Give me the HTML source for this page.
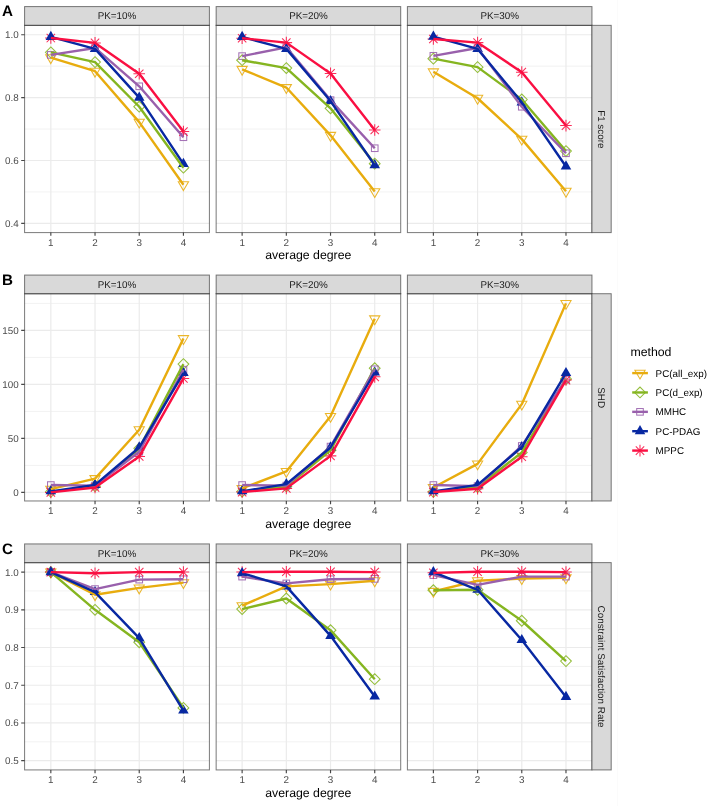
<!DOCTYPE html>
<html lang="en"><head><meta charset="utf-8"><title>Figure</title>
<style>html,body{margin:0;padding:0;background:#fff}svg{display:block}</style>
</head><body>
<svg width="708" height="806" viewBox="0 0 708 806" font-family="&quot;Liberation Sans&quot;, Arial, sans-serif" text-rendering="geometricPrecision">
<rect width="708" height="806" fill="#fff"/>
<text x="1.9" y="16.3" font-size="15.2" font-weight="bold" fill="#000">A</text>
<rect x="24.6" y="25.35" width="184.8" height="207.25" fill="#fff"/>
<path d="M24.6 191.92H209.4M24.6 129.05H209.4M24.6 66.18H209.4" stroke="#EBEBEB" stroke-width="0.65" fill="none"/>
<path d="M24.6 223.35H209.4M24.6 160.48H209.4M24.6 97.62H209.4M24.6 34.75H209.4M50.83 25.35V232.6M95.03 25.35V232.6M139.23 25.35V232.6M183.43 25.35V232.6" stroke="#EBEBEB" stroke-width="1.2" fill="none"/>
<path d="M50.83 63.6L55.94 54.75L45.72 54.75Z" fill="none" stroke="#E8AC0E" stroke-width="1.05" stroke-opacity="0.88"/>
<path d="M95.03 77.11L100.14 68.26L89.92 68.26Z" fill="none" stroke="#E8AC0E" stroke-width="1.05" stroke-opacity="0.88"/>
<path d="M139.23 128.03L144.34 119.18L134.12 119.18Z" fill="none" stroke="#E8AC0E" stroke-width="1.05" stroke-opacity="0.88"/>
<path d="M183.43 190.59L188.54 181.74L178.32 181.74Z" fill="none" stroke="#E8AC0E" stroke-width="1.05" stroke-opacity="0.88"/>
<path d="M45.43 52.35L50.83 46.95L56.23 52.35L50.83 57.75Z" fill="none" stroke="#85B520" stroke-width="1.05" stroke-opacity="0.88"/>
<path d="M89.63 62.1L95.03 56.7L100.43 62.1L95.03 67.5Z" fill="none" stroke="#85B520" stroke-width="1.05" stroke-opacity="0.88"/>
<path d="M133.83 106.73L139.23 101.33L144.63 106.73L139.23 112.13Z" fill="none" stroke="#85B520" stroke-width="1.05" stroke-opacity="0.88"/>
<path d="M178.03 167.71L183.43 162.31L188.83 167.71L183.43 173.11Z" fill="none" stroke="#85B520" stroke-width="1.05" stroke-opacity="0.88"/>
<rect x="47.53" y="51.57" width="6.6" height="6.6" fill="none" stroke="#9960AC" stroke-width="1.05" stroke-opacity="0.88"/>
<rect x="91.73" y="44.65" width="6.6" height="6.6" fill="none" stroke="#9960AC" stroke-width="1.05" stroke-opacity="0.88"/>
<rect x="135.93" y="83" width="6.6" height="6.6" fill="none" stroke="#9960AC" stroke-width="1.05" stroke-opacity="0.88"/>
<rect x="180.13" y="133.92" width="6.6" height="6.6" fill="none" stroke="#9960AC" stroke-width="1.05" stroke-opacity="0.88"/>
<path d="M46.63 33.85L55.03 42.25M46.63 42.25L55.03 33.85M45.03 38.05L56.63 38.05M50.83 32.25L50.83 43.85" fill="none" stroke="#FA0F42" stroke-width="1.05" stroke-opacity="0.88"/>
<path d="M90.83 38.72L99.23 47.12M90.83 47.12L99.23 38.72M89.23 42.92L100.83 42.92M95.03 37.12L95.03 48.72" fill="none" stroke="#FA0F42" stroke-width="1.05" stroke-opacity="0.88"/>
<path d="M135.03 69.53L143.43 77.93M135.03 77.93L143.43 69.53M133.43 73.73L145.03 73.73M139.23 67.93L139.23 79.53" fill="none" stroke="#FA0F42" stroke-width="1.05" stroke-opacity="0.88"/>
<path d="M179.23 127.36L187.63 135.76M179.23 135.76L187.63 127.36M177.63 131.56L189.23 131.56M183.43 125.76L183.43 137.36" fill="none" stroke="#FA0F42" stroke-width="1.05" stroke-opacity="0.88"/>
<path d="M50.83 30.85L56.11 40L45.55 40Z" fill="#0828A2"/>
<path d="M95.03 42.8L100.31 51.95L89.75 51.95Z" fill="#0828A2"/>
<path d="M139.23 91.52L144.51 100.67L133.95 100.67Z" fill="#0828A2"/>
<path d="M183.43 157.84L188.71 166.99L178.15 166.99Z" fill="#0828A2"/>
<polyline points="50.83,57.7 95.03,71.21 139.23,122.13 183.43,184.69" fill="none" stroke="#E8AC0E" stroke-width="2.4" stroke-linejoin="round" stroke-linecap="butt"/>
<polyline points="50.83,52.35 95.03,62.1 139.23,106.73 183.43,167.71" fill="none" stroke="#85B520" stroke-width="2.4" stroke-linejoin="round" stroke-linecap="butt"/>
<polyline points="50.83,54.87 95.03,47.95 139.23,86.3 183.43,137.22" fill="none" stroke="#9960AC" stroke-width="2.4" stroke-linejoin="round" stroke-linecap="butt"/>
<polyline points="50.83,36.95 95.03,48.9 139.23,97.62 183.43,163.94" fill="none" stroke="#0828A2" stroke-width="2.4" stroke-linejoin="round" stroke-linecap="butt"/>
<polyline points="50.83,38.05 95.03,42.92 139.23,73.73 183.43,131.56" fill="none" stroke="#FA0F42" stroke-width="2.4" stroke-linejoin="round" stroke-linecap="butt"/>
<rect x="24.6" y="25.35" width="184.8" height="207.25" fill="none" stroke="#333333" stroke-opacity="0.65" stroke-width="1"/>
<rect x="24.6" y="6.6" width="184.8" height="18.75" fill="#D9D9D9" stroke="#333333" stroke-opacity="0.65" stroke-width="1"/>
<text x="117" y="19.4" font-size="9.85" fill="#1A1A1A" text-anchor="middle">PK=10%</text>
<path d="M24.1 25.35H209.9" stroke="#333333" stroke-opacity="0.35" stroke-width="1.2" fill="none"/>
<path d="M50.83 232.6v3.2M95.03 232.6v3.2M139.23 232.6v3.2M183.43 232.6v3.2" stroke="#333333" stroke-opacity="0.9" stroke-width="1.15" fill="none"/>
<text x="50.83" y="245.8" font-size="9.85" fill="#4D4D4D" text-anchor="middle">1</text>
<text x="95.03" y="245.8" font-size="9.85" fill="#4D4D4D" text-anchor="middle">2</text>
<text x="139.23" y="245.8" font-size="9.85" fill="#4D4D4D" text-anchor="middle">3</text>
<text x="183.43" y="245.8" font-size="9.85" fill="#4D4D4D" text-anchor="middle">4</text>
<rect x="216.15" y="25.35" width="184.55" height="207.25" fill="#fff"/>
<path d="M216.15 191.92H400.7M216.15 129.05H400.7M216.15 66.18H400.7" stroke="#EBEBEB" stroke-width="0.65" fill="none"/>
<path d="M216.15 223.35H400.7M216.15 160.48H400.7M216.15 97.62H400.7M216.15 34.75H400.7M242.13 25.35V232.6M286.33 25.35V232.6M330.53 25.35V232.6M374.73 25.35V232.6" stroke="#EBEBEB" stroke-width="1.2" fill="none"/>
<path d="M242.13 75.23L247.24 66.38L237.02 66.38Z" fill="none" stroke="#E8AC0E" stroke-width="1.05" stroke-opacity="0.88"/>
<path d="M286.33 93.46L291.44 84.61L281.22 84.61Z" fill="none" stroke="#E8AC0E" stroke-width="1.05" stroke-opacity="0.88"/>
<path d="M330.53 141.24L335.64 132.39L325.42 132.39Z" fill="none" stroke="#E8AC0E" stroke-width="1.05" stroke-opacity="0.88"/>
<path d="M374.73 197.5L379.84 188.65L369.62 188.65Z" fill="none" stroke="#E8AC0E" stroke-width="1.05" stroke-opacity="0.88"/>
<path d="M236.73 60.21L242.13 54.81L247.53 60.21L242.13 65.61Z" fill="none" stroke="#85B520" stroke-width="1.05" stroke-opacity="0.88"/>
<path d="M280.93 68.07L286.33 62.67L291.73 68.07L286.33 73.47Z" fill="none" stroke="#85B520" stroke-width="1.05" stroke-opacity="0.88"/>
<path d="M325.13 108.3L330.53 102.9L335.93 108.3L330.53 113.7Z" fill="none" stroke="#85B520" stroke-width="1.05" stroke-opacity="0.88"/>
<path d="M369.33 163.63L374.73 158.23L380.13 163.63L374.73 169.03Z" fill="none" stroke="#85B520" stroke-width="1.05" stroke-opacity="0.88"/>
<rect x="238.83" y="52.82" width="6.6" height="6.6" fill="none" stroke="#9960AC" stroke-width="1.05" stroke-opacity="0.88"/>
<rect x="283.03" y="44.02" width="6.6" height="6.6" fill="none" stroke="#9960AC" stroke-width="1.05" stroke-opacity="0.88"/>
<rect x="327.23" y="96.83" width="6.6" height="6.6" fill="none" stroke="#9960AC" stroke-width="1.05" stroke-opacity="0.88"/>
<rect x="371.43" y="144.92" width="6.6" height="6.6" fill="none" stroke="#9960AC" stroke-width="1.05" stroke-opacity="0.88"/>
<path d="M237.93 34.01L246.33 42.41M237.93 42.41L246.33 34.01M236.33 38.21L247.93 38.21M242.13 32.41L242.13 44.01" fill="none" stroke="#FA0F42" stroke-width="1.05" stroke-opacity="0.88"/>
<path d="M282.13 38.41L290.53 46.81M282.13 46.81L290.53 38.41M280.53 42.61L292.13 42.61M286.33 36.81L286.33 48.41" fill="none" stroke="#FA0F42" stroke-width="1.05" stroke-opacity="0.88"/>
<path d="M326.33 69.21L334.73 77.61M326.33 77.61L334.73 69.21M324.73 73.41L336.33 73.41M330.53 67.61L330.53 79.21" fill="none" stroke="#FA0F42" stroke-width="1.05" stroke-opacity="0.88"/>
<path d="M370.53 125.79L378.93 134.19M370.53 134.19L378.93 125.79M368.93 129.99L380.53 129.99M374.73 124.19L374.73 135.79" fill="none" stroke="#FA0F42" stroke-width="1.05" stroke-opacity="0.88"/>
<path d="M242.13 30.85L247.41 40L236.85 40Z" fill="#0828A2"/>
<path d="M286.33 42.8L291.61 51.95L281.05 51.95Z" fill="#0828A2"/>
<path d="M330.53 94.97L335.81 104.12L325.25 104.12Z" fill="#0828A2"/>
<path d="M374.73 159.1L380.01 168.25L369.45 168.25Z" fill="#0828A2"/>
<polyline points="242.13,69.33 286.33,87.56 330.53,135.34 374.73,191.6" fill="none" stroke="#E8AC0E" stroke-width="2.4" stroke-linejoin="round" stroke-linecap="butt"/>
<polyline points="242.13,60.21 286.33,68.07 330.53,108.3 374.73,163.63" fill="none" stroke="#85B520" stroke-width="2.4" stroke-linejoin="round" stroke-linecap="butt"/>
<polyline points="242.13,56.12 286.33,47.32 330.53,100.13 374.73,148.22" fill="none" stroke="#9960AC" stroke-width="2.4" stroke-linejoin="round" stroke-linecap="butt"/>
<polyline points="242.13,36.95 286.33,48.9 330.53,101.07 374.73,165.2" fill="none" stroke="#0828A2" stroke-width="2.4" stroke-linejoin="round" stroke-linecap="butt"/>
<polyline points="242.13,38.21 286.33,42.61 330.53,73.41 374.73,129.99" fill="none" stroke="#FA0F42" stroke-width="2.4" stroke-linejoin="round" stroke-linecap="butt"/>
<rect x="216.15" y="25.35" width="184.55" height="207.25" fill="none" stroke="#333333" stroke-opacity="0.65" stroke-width="1"/>
<rect x="216.15" y="6.6" width="184.55" height="18.75" fill="#D9D9D9" stroke="#333333" stroke-opacity="0.65" stroke-width="1"/>
<text x="308.43" y="19.4" font-size="9.85" fill="#1A1A1A" text-anchor="middle">PK=20%</text>
<path d="M215.65 25.35H401.2" stroke="#333333" stroke-opacity="0.35" stroke-width="1.2" fill="none"/>
<path d="M242.13 232.6v3.2M286.33 232.6v3.2M330.53 232.6v3.2M374.73 232.6v3.2" stroke="#333333" stroke-opacity="0.9" stroke-width="1.15" fill="none"/>
<text x="242.13" y="245.8" font-size="9.85" fill="#4D4D4D" text-anchor="middle">1</text>
<text x="286.33" y="245.8" font-size="9.85" fill="#4D4D4D" text-anchor="middle">2</text>
<text x="330.53" y="245.8" font-size="9.85" fill="#4D4D4D" text-anchor="middle">3</text>
<text x="374.73" y="245.8" font-size="9.85" fill="#4D4D4D" text-anchor="middle">4</text>
<rect x="407.4" y="25.35" width="184.55" height="207.25" fill="#fff"/>
<path d="M407.4 191.92H591.95M407.4 129.05H591.95M407.4 66.18H591.95" stroke="#EBEBEB" stroke-width="0.65" fill="none"/>
<path d="M407.4 223.35H591.95M407.4 160.48H591.95M407.4 97.62H591.95M407.4 34.75H591.95M433.38 25.35V232.6M477.58 25.35V232.6M521.78 25.35V232.6M565.98 25.35V232.6" stroke="#EBEBEB" stroke-width="1.2" fill="none"/>
<path d="M433.38 77.74L438.49 68.89L428.27 68.89Z" fill="none" stroke="#E8AC0E" stroke-width="1.05" stroke-opacity="0.88"/>
<path d="M477.58 104.15L482.69 95.3L472.47 95.3Z" fill="none" stroke="#E8AC0E" stroke-width="1.05" stroke-opacity="0.88"/>
<path d="M521.78 145.01L526.89 136.16L516.67 136.16Z" fill="none" stroke="#E8AC0E" stroke-width="1.05" stroke-opacity="0.88"/>
<path d="M565.98 197.19L571.09 188.34L560.87 188.34Z" fill="none" stroke="#E8AC0E" stroke-width="1.05" stroke-opacity="0.88"/>
<path d="M427.98 58.64L433.38 53.24L438.78 58.64L433.38 64.04Z" fill="none" stroke="#85B520" stroke-width="1.05" stroke-opacity="0.88"/>
<path d="M472.18 67.13L477.58 61.73L482.98 67.13L477.58 72.53Z" fill="none" stroke="#85B520" stroke-width="1.05" stroke-opacity="0.88"/>
<path d="M516.38 99.5L521.78 94.1L527.18 99.5L521.78 104.9Z" fill="none" stroke="#85B520" stroke-width="1.05" stroke-opacity="0.88"/>
<path d="M560.58 151.05L565.98 145.65L571.38 151.05L565.98 156.45Z" fill="none" stroke="#85B520" stroke-width="1.05" stroke-opacity="0.88"/>
<rect x="430.08" y="52.51" width="6.6" height="6.6" fill="none" stroke="#9960AC" stroke-width="1.05" stroke-opacity="0.88"/>
<rect x="474.28" y="44.65" width="6.6" height="6.6" fill="none" stroke="#9960AC" stroke-width="1.05" stroke-opacity="0.88"/>
<rect x="518.48" y="103.43" width="6.6" height="6.6" fill="none" stroke="#9960AC" stroke-width="1.05" stroke-opacity="0.88"/>
<rect x="562.68" y="149.95" width="6.6" height="6.6" fill="none" stroke="#9960AC" stroke-width="1.05" stroke-opacity="0.88"/>
<path d="M429.18 34.79L437.58 43.19M429.18 43.19L437.58 34.79M427.58 38.99L439.18 38.99M433.38 33.19L433.38 44.79" fill="none" stroke="#FA0F42" stroke-width="1.05" stroke-opacity="0.88"/>
<path d="M473.38 38.41L481.78 46.81M473.38 46.81L481.78 38.41M471.78 42.61L483.38 42.61M477.58 36.81L477.58 48.41" fill="none" stroke="#FA0F42" stroke-width="1.05" stroke-opacity="0.88"/>
<path d="M517.58 67.96L525.98 76.36M517.58 76.36L525.98 67.96M515.98 72.16L527.58 72.16M521.78 66.36L521.78 77.96" fill="none" stroke="#FA0F42" stroke-width="1.05" stroke-opacity="0.88"/>
<path d="M561.78 121.39L570.18 129.79M561.78 129.79L570.18 121.39M560.18 125.59L571.78 125.59M565.98 119.79L565.98 131.39" fill="none" stroke="#FA0F42" stroke-width="1.05" stroke-opacity="0.88"/>
<path d="M433.38 30.54L438.66 39.69L428.1 39.69Z" fill="#0828A2"/>
<path d="M477.58 42.8L482.86 51.95L472.3 51.95Z" fill="#0828A2"/>
<path d="M521.78 96.23L527.06 105.38L516.5 105.38Z" fill="#0828A2"/>
<path d="M565.98 160.36L571.26 169.51L560.7 169.51Z" fill="#0828A2"/>
<polyline points="433.38,71.84 477.58,98.25 521.78,139.11 565.98,191.29" fill="none" stroke="#E8AC0E" stroke-width="2.4" stroke-linejoin="round" stroke-linecap="butt"/>
<polyline points="433.38,58.64 477.58,67.13 521.78,99.5 565.98,151.05" fill="none" stroke="#85B520" stroke-width="2.4" stroke-linejoin="round" stroke-linecap="butt"/>
<polyline points="433.38,55.81 477.58,47.95 521.78,106.73 565.98,153.25" fill="none" stroke="#9960AC" stroke-width="2.4" stroke-linejoin="round" stroke-linecap="butt"/>
<polyline points="433.38,36.64 477.58,48.9 521.78,102.33 565.98,166.46" fill="none" stroke="#0828A2" stroke-width="2.4" stroke-linejoin="round" stroke-linecap="butt"/>
<polyline points="433.38,38.99 477.58,42.61 521.78,72.16 565.98,125.59" fill="none" stroke="#FA0F42" stroke-width="2.4" stroke-linejoin="round" stroke-linecap="butt"/>
<rect x="407.4" y="25.35" width="184.55" height="207.25" fill="none" stroke="#333333" stroke-opacity="0.65" stroke-width="1"/>
<rect x="407.4" y="6.6" width="184.55" height="18.75" fill="#D9D9D9" stroke="#333333" stroke-opacity="0.65" stroke-width="1"/>
<text x="499.68" y="19.4" font-size="9.85" fill="#1A1A1A" text-anchor="middle">PK=30%</text>
<path d="M406.9 25.35H592.45" stroke="#333333" stroke-opacity="0.35" stroke-width="1.2" fill="none"/>
<path d="M433.38 232.6v3.2M477.58 232.6v3.2M521.78 232.6v3.2M565.98 232.6v3.2" stroke="#333333" stroke-opacity="0.9" stroke-width="1.15" fill="none"/>
<text x="433.38" y="245.8" font-size="9.85" fill="#4D4D4D" text-anchor="middle">1</text>
<text x="477.58" y="245.8" font-size="9.85" fill="#4D4D4D" text-anchor="middle">2</text>
<text x="521.78" y="245.8" font-size="9.85" fill="#4D4D4D" text-anchor="middle">3</text>
<text x="565.98" y="245.8" font-size="9.85" fill="#4D4D4D" text-anchor="middle">4</text>
<path d="M24.6 223.35h-3.4M24.6 160.48h-3.4M24.6 97.62h-3.4M24.6 34.75h-3.4" stroke="#333333" stroke-opacity="0.9" stroke-width="1.15" fill="none"/>
<text x="18.7" y="226.85" font-size="9.85" fill="#4D4D4D" text-anchor="end">0.4</text>
<text x="18.7" y="163.98" font-size="9.85" fill="#4D4D4D" text-anchor="end">0.6</text>
<text x="18.7" y="101.12" font-size="9.85" fill="#4D4D4D" text-anchor="end">0.8</text>
<text x="18.7" y="38.25" font-size="9.85" fill="#4D4D4D" text-anchor="end">1.0</text>
<rect x="591.95" y="25.35" width="19.25" height="207.25" fill="#D9D9D9" stroke="#333333" stroke-opacity="0.65" stroke-width="1"/>
<text transform="translate(598.2 129.28) rotate(90)" font-size="9.85" fill="#1A1A1A" text-anchor="middle">F1 score</text>
<text x="308.3" y="259.3" font-size="12.3" fill="#000" text-anchor="middle">average degree</text>
<text x="1.9" y="284.97" font-size="15.2" font-weight="bold" fill="#000">B</text>
<rect x="24.6" y="293.72" width="184.8" height="207.25" fill="#fff"/>
<path d="M24.6 465.39H209.4M24.6 411.39H209.4M24.6 357.39H209.4M24.6 303.38H209.4" stroke="#EBEBEB" stroke-width="0.65" fill="none"/>
<path d="M24.6 492.4H209.4M24.6 438.39H209.4M24.6 384.39H209.4M24.6 330.38H209.4M50.83 293.72V500.97M95.03 293.72V500.97M139.23 293.72V500.97M183.43 293.72V500.97" stroke="#EBEBEB" stroke-width="1.2" fill="none"/>
<path d="M50.83 495.06L55.94 486.21L45.72 486.21Z" fill="none" stroke="#E8AC0E" stroke-width="1.05" stroke-opacity="0.88"/>
<path d="M95.03 484.47L100.14 475.62L89.92 475.62Z" fill="none" stroke="#E8AC0E" stroke-width="1.05" stroke-opacity="0.88"/>
<path d="M139.23 435.65L144.34 426.8L134.12 426.8Z" fill="none" stroke="#E8AC0E" stroke-width="1.05" stroke-opacity="0.88"/>
<path d="M183.43 344.49L188.54 335.64L178.32 335.64Z" fill="none" stroke="#E8AC0E" stroke-width="1.05" stroke-opacity="0.88"/>
<path d="M45.43 491.86L50.83 486.46L56.23 491.86L50.83 497.26Z" fill="none" stroke="#85B520" stroke-width="1.05" stroke-opacity="0.88"/>
<path d="M89.63 486.13L95.03 480.73L100.43 486.13L95.03 491.53Z" fill="none" stroke="#85B520" stroke-width="1.05" stroke-opacity="0.88"/>
<path d="M133.83 448.33L139.23 442.93L144.63 448.33L139.23 453.73Z" fill="none" stroke="#85B520" stroke-width="1.05" stroke-opacity="0.88"/>
<path d="M178.03 364.08L183.43 358.68L188.83 364.08L183.43 369.48Z" fill="none" stroke="#85B520" stroke-width="1.05" stroke-opacity="0.88"/>
<rect x="47.53" y="481.75" width="6.6" height="6.6" fill="none" stroke="#9960AC" stroke-width="1.05" stroke-opacity="0.88"/>
<rect x="91.73" y="482.29" width="6.6" height="6.6" fill="none" stroke="#9960AC" stroke-width="1.05" stroke-opacity="0.88"/>
<rect x="135.93" y="448.38" width="6.6" height="6.6" fill="none" stroke="#9960AC" stroke-width="1.05" stroke-opacity="0.88"/>
<rect x="180.13" y="366.4" width="6.6" height="6.6" fill="none" stroke="#9960AC" stroke-width="1.05" stroke-opacity="0.88"/>
<path d="M46.63 488.2L55.03 496.6M46.63 496.6L55.03 488.2M45.03 492.4L56.63 492.4M50.83 486.6L50.83 498.2" fill="none" stroke="#FA0F42" stroke-width="1.05" stroke-opacity="0.88"/>
<path d="M90.83 483.34L99.23 491.74M90.83 491.74L99.23 483.34M89.23 487.54L100.83 487.54M95.03 481.74L95.03 493.34" fill="none" stroke="#FA0F42" stroke-width="1.05" stroke-opacity="0.88"/>
<path d="M135.03 452.34L143.43 460.74M135.03 460.74L143.43 452.34M133.43 456.54L145.03 456.54M139.23 450.74L139.23 462.34" fill="none" stroke="#FA0F42" stroke-width="1.05" stroke-opacity="0.88"/>
<path d="M179.23 374.25L187.63 382.65M179.23 382.65L187.63 374.25M177.63 378.45L189.23 378.45M183.43 372.65L183.43 384.25" fill="none" stroke="#FA0F42" stroke-width="1.05" stroke-opacity="0.88"/>
<path d="M50.83 485.22L56.11 494.37L45.55 494.37Z" fill="#0828A2"/>
<path d="M95.03 478.74L100.31 487.89L89.75 487.89Z" fill="#0828A2"/>
<path d="M139.23 441.37L144.51 450.52L133.95 450.52Z" fill="#0828A2"/>
<path d="M183.43 366.95L188.71 376.1L178.15 376.1Z" fill="#0828A2"/>
<polyline points="50.83,489.16 95.03,478.57 139.23,429.75 183.43,338.59" fill="none" stroke="#E8AC0E" stroke-width="2.4" stroke-linejoin="round" stroke-linecap="butt"/>
<polyline points="50.83,491.86 95.03,486.13 139.23,448.33 183.43,364.08" fill="none" stroke="#85B520" stroke-width="2.4" stroke-linejoin="round" stroke-linecap="butt"/>
<polyline points="50.83,485.05 95.03,485.59 139.23,451.68 183.43,369.7" fill="none" stroke="#9960AC" stroke-width="2.4" stroke-linejoin="round" stroke-linecap="butt"/>
<polyline points="50.83,491.32 95.03,484.84 139.23,447.47 183.43,373.05" fill="none" stroke="#0828A2" stroke-width="2.4" stroke-linejoin="round" stroke-linecap="butt"/>
<polyline points="50.83,492.4 95.03,487.54 139.23,456.54 183.43,378.45" fill="none" stroke="#FA0F42" stroke-width="2.4" stroke-linejoin="round" stroke-linecap="butt"/>
<rect x="24.6" y="293.72" width="184.8" height="207.25" fill="none" stroke="#333333" stroke-opacity="0.65" stroke-width="1"/>
<rect x="24.6" y="275.07" width="184.8" height="18.65" fill="#D9D9D9" stroke="#333333" stroke-opacity="0.65" stroke-width="1"/>
<text x="117" y="288.07" font-size="9.85" fill="#1A1A1A" text-anchor="middle">PK=10%</text>
<path d="M24.1 293.72H209.9" stroke="#333333" stroke-opacity="0.35" stroke-width="1.2" fill="none"/>
<path d="M50.83 500.97v3.2M95.03 500.97v3.2M139.23 500.97v3.2M183.43 500.97v3.2" stroke="#333333" stroke-opacity="0.9" stroke-width="1.15" fill="none"/>
<text x="50.83" y="514.47" font-size="9.85" fill="#4D4D4D" text-anchor="middle">1</text>
<text x="95.03" y="514.47" font-size="9.85" fill="#4D4D4D" text-anchor="middle">2</text>
<text x="139.23" y="514.47" font-size="9.85" fill="#4D4D4D" text-anchor="middle">3</text>
<text x="183.43" y="514.47" font-size="9.85" fill="#4D4D4D" text-anchor="middle">4</text>
<rect x="216.15" y="293.72" width="184.55" height="207.25" fill="#fff"/>
<path d="M216.15 465.39H400.7M216.15 411.39H400.7M216.15 357.39H400.7M216.15 303.38H400.7" stroke="#EBEBEB" stroke-width="0.65" fill="none"/>
<path d="M216.15 492.4H400.7M216.15 438.39H400.7M216.15 384.39H400.7M216.15 330.38H400.7M242.13 293.72V500.97M286.33 293.72V500.97M330.53 293.72V500.97M374.73 293.72V500.97" stroke="#EBEBEB" stroke-width="1.2" fill="none"/>
<path d="M242.13 494.3L247.24 485.45L237.02 485.45Z" fill="none" stroke="#E8AC0E" stroke-width="1.05" stroke-opacity="0.88"/>
<path d="M286.33 477.34L291.44 468.49L281.22 468.49Z" fill="none" stroke="#E8AC0E" stroke-width="1.05" stroke-opacity="0.88"/>
<path d="M330.53 422.26L335.64 413.41L325.42 413.41Z" fill="none" stroke="#E8AC0E" stroke-width="1.05" stroke-opacity="0.88"/>
<path d="M374.73 324.73L379.84 315.88L369.62 315.88Z" fill="none" stroke="#E8AC0E" stroke-width="1.05" stroke-opacity="0.88"/>
<path d="M236.73 491.53L242.13 486.13L247.53 491.53L242.13 496.93Z" fill="none" stroke="#85B520" stroke-width="1.05" stroke-opacity="0.88"/>
<path d="M280.93 486.46L286.33 481.06L291.73 486.46L286.33 491.86Z" fill="none" stroke="#85B520" stroke-width="1.05" stroke-opacity="0.88"/>
<path d="M325.13 450.27L330.53 444.87L335.93 450.27L330.53 455.67Z" fill="none" stroke="#85B520" stroke-width="1.05" stroke-opacity="0.88"/>
<path d="M369.33 368.19L374.73 362.79L380.13 368.19L374.73 373.59Z" fill="none" stroke="#85B520" stroke-width="1.05" stroke-opacity="0.88"/>
<rect x="238.83" y="481.75" width="6.6" height="6.6" fill="none" stroke="#9960AC" stroke-width="1.05" stroke-opacity="0.88"/>
<rect x="283.03" y="482.29" width="6.6" height="6.6" fill="none" stroke="#9960AC" stroke-width="1.05" stroke-opacity="0.88"/>
<rect x="327.23" y="443.3" width="6.6" height="6.6" fill="none" stroke="#9960AC" stroke-width="1.05" stroke-opacity="0.88"/>
<rect x="371.43" y="365.97" width="6.6" height="6.6" fill="none" stroke="#9960AC" stroke-width="1.05" stroke-opacity="0.88"/>
<path d="M237.93 487.87L246.33 496.27M237.93 496.27L246.33 487.87M236.33 492.07L247.93 492.07M242.13 486.27L242.13 497.87" fill="none" stroke="#FA0F42" stroke-width="1.05" stroke-opacity="0.88"/>
<path d="M282.13 484.2L290.53 492.6M282.13 492.6L290.53 484.2M280.53 488.4L292.13 488.4M286.33 482.6L286.33 494.2" fill="none" stroke="#FA0F42" stroke-width="1.05" stroke-opacity="0.88"/>
<path d="M326.33 451.69L334.73 460.09M326.33 460.09L334.73 451.69M324.73 455.89L336.33 455.89M330.53 450.09L330.53 461.69" fill="none" stroke="#FA0F42" stroke-width="1.05" stroke-opacity="0.88"/>
<path d="M370.53 372.63L378.93 381.03M370.53 381.03L378.93 372.63M368.93 376.83L380.53 376.83M374.73 371.03L374.73 382.63" fill="none" stroke="#FA0F42" stroke-width="1.05" stroke-opacity="0.88"/>
<path d="M242.13 485.22L247.41 494.37L236.85 494.37Z" fill="#0828A2"/>
<path d="M286.33 478.09L291.61 487.24L281.05 487.24Z" fill="#0828A2"/>
<path d="M330.53 441.37L335.81 450.52L325.25 450.52Z" fill="#0828A2"/>
<path d="M374.73 366.41L380.01 375.56L369.45 375.56Z" fill="#0828A2"/>
<polyline points="242.13,488.4 286.33,471.44 330.53,416.36 374.73,318.83" fill="none" stroke="#E8AC0E" stroke-width="2.4" stroke-linejoin="round" stroke-linecap="butt"/>
<polyline points="242.13,491.53 286.33,486.46 330.53,450.27 374.73,368.19" fill="none" stroke="#85B520" stroke-width="2.4" stroke-linejoin="round" stroke-linecap="butt"/>
<polyline points="242.13,485.05 286.33,485.59 330.53,446.6 374.73,369.27" fill="none" stroke="#9960AC" stroke-width="2.4" stroke-linejoin="round" stroke-linecap="butt"/>
<polyline points="242.13,491.32 286.33,484.19 330.53,447.47 374.73,372.51" fill="none" stroke="#0828A2" stroke-width="2.4" stroke-linejoin="round" stroke-linecap="butt"/>
<polyline points="242.13,492.07 286.33,488.4 330.53,455.89 374.73,376.83" fill="none" stroke="#FA0F42" stroke-width="2.4" stroke-linejoin="round" stroke-linecap="butt"/>
<rect x="216.15" y="293.72" width="184.55" height="207.25" fill="none" stroke="#333333" stroke-opacity="0.65" stroke-width="1"/>
<rect x="216.15" y="275.07" width="184.55" height="18.65" fill="#D9D9D9" stroke="#333333" stroke-opacity="0.65" stroke-width="1"/>
<text x="308.43" y="288.07" font-size="9.85" fill="#1A1A1A" text-anchor="middle">PK=20%</text>
<path d="M215.65 293.72H401.2" stroke="#333333" stroke-opacity="0.35" stroke-width="1.2" fill="none"/>
<path d="M242.13 500.97v3.2M286.33 500.97v3.2M330.53 500.97v3.2M374.73 500.97v3.2" stroke="#333333" stroke-opacity="0.9" stroke-width="1.15" fill="none"/>
<text x="242.13" y="514.47" font-size="9.85" fill="#4D4D4D" text-anchor="middle">1</text>
<text x="286.33" y="514.47" font-size="9.85" fill="#4D4D4D" text-anchor="middle">2</text>
<text x="330.53" y="514.47" font-size="9.85" fill="#4D4D4D" text-anchor="middle">3</text>
<text x="374.73" y="514.47" font-size="9.85" fill="#4D4D4D" text-anchor="middle">4</text>
<rect x="407.4" y="293.72" width="184.55" height="207.25" fill="#fff"/>
<path d="M407.4 465.39H591.95M407.4 411.39H591.95M407.4 357.39H591.95M407.4 303.38H591.95" stroke="#EBEBEB" stroke-width="0.65" fill="none"/>
<path d="M407.4 492.4H591.95M407.4 438.39H591.95M407.4 384.39H591.95M407.4 330.38H591.95M433.38 293.72V500.97M477.58 293.72V500.97M521.78 293.72V500.97M565.98 293.72V500.97" stroke="#EBEBEB" stroke-width="1.2" fill="none"/>
<path d="M433.38 493.44L438.49 484.59L428.27 484.59Z" fill="none" stroke="#E8AC0E" stroke-width="1.05" stroke-opacity="0.88"/>
<path d="M477.58 469.78L482.69 460.93L472.47 460.93Z" fill="none" stroke="#E8AC0E" stroke-width="1.05" stroke-opacity="0.88"/>
<path d="M521.78 410.05L526.89 401.2L516.67 401.2Z" fill="none" stroke="#E8AC0E" stroke-width="1.05" stroke-opacity="0.88"/>
<path d="M565.98 309.28L571.09 300.43L560.87 300.43Z" fill="none" stroke="#E8AC0E" stroke-width="1.05" stroke-opacity="0.88"/>
<path d="M427.98 491.86L433.38 486.46L438.78 491.86L433.38 497.26Z" fill="none" stroke="#85B520" stroke-width="1.05" stroke-opacity="0.88"/>
<path d="M472.18 487L477.58 481.6L482.98 487L477.58 492.4Z" fill="none" stroke="#85B520" stroke-width="1.05" stroke-opacity="0.88"/>
<path d="M516.38 452.43L521.78 447.03L527.18 452.43L521.78 457.83Z" fill="none" stroke="#85B520" stroke-width="1.05" stroke-opacity="0.88"/>
<path d="M560.58 378.99L565.98 373.59L571.38 378.99L565.98 384.39Z" fill="none" stroke="#85B520" stroke-width="1.05" stroke-opacity="0.88"/>
<rect x="430.08" y="481.75" width="6.6" height="6.6" fill="none" stroke="#9960AC" stroke-width="1.05" stroke-opacity="0.88"/>
<rect x="474.28" y="482.83" width="6.6" height="6.6" fill="none" stroke="#9960AC" stroke-width="1.05" stroke-opacity="0.88"/>
<rect x="518.48" y="442.65" width="6.6" height="6.6" fill="none" stroke="#9960AC" stroke-width="1.05" stroke-opacity="0.88"/>
<rect x="562.68" y="376.23" width="6.6" height="6.6" fill="none" stroke="#9960AC" stroke-width="1.05" stroke-opacity="0.88"/>
<path d="M429.18 487.87L437.58 496.27M429.18 496.27L437.58 487.87M427.58 492.07L439.18 492.07M433.38 486.27L433.38 497.87" fill="none" stroke="#FA0F42" stroke-width="1.05" stroke-opacity="0.88"/>
<path d="M473.38 484.52L481.78 492.92M473.38 492.92L481.78 484.52M471.78 488.72L483.38 488.72M477.58 482.92L477.58 494.52" fill="none" stroke="#FA0F42" stroke-width="1.05" stroke-opacity="0.88"/>
<path d="M517.58 452.55L525.98 460.95M517.58 460.95L525.98 452.55M515.98 456.75L527.58 456.75M521.78 450.95L521.78 462.55" fill="none" stroke="#FA0F42" stroke-width="1.05" stroke-opacity="0.88"/>
<path d="M561.78 375.87L570.18 384.27M561.78 384.27L570.18 375.87M560.18 380.07L571.78 380.07M565.98 374.27L565.98 385.87" fill="none" stroke="#FA0F42" stroke-width="1.05" stroke-opacity="0.88"/>
<path d="M433.38 485.22L438.66 494.37L428.1 494.37Z" fill="#0828A2"/>
<path d="M477.58 478.74L482.86 487.89L472.3 487.89Z" fill="#0828A2"/>
<path d="M521.78 440.93L527.06 450.08L516.5 450.08Z" fill="#0828A2"/>
<path d="M565.98 366.95L571.26 376.1L560.7 376.1Z" fill="#0828A2"/>
<polyline points="433.38,487.54 477.58,463.88 521.78,404.15 565.98,303.38" fill="none" stroke="#E8AC0E" stroke-width="2.4" stroke-linejoin="round" stroke-linecap="butt"/>
<polyline points="433.38,491.86 477.58,487 521.78,452.43 565.98,378.99" fill="none" stroke="#85B520" stroke-width="2.4" stroke-linejoin="round" stroke-linecap="butt"/>
<polyline points="433.38,485.05 477.58,486.13 521.78,445.95 565.98,379.53" fill="none" stroke="#9960AC" stroke-width="2.4" stroke-linejoin="round" stroke-linecap="butt"/>
<polyline points="433.38,491.32 477.58,484.84 521.78,447.03 565.98,373.05" fill="none" stroke="#0828A2" stroke-width="2.4" stroke-linejoin="round" stroke-linecap="butt"/>
<polyline points="433.38,492.07 477.58,488.72 521.78,456.75 565.98,380.07" fill="none" stroke="#FA0F42" stroke-width="2.4" stroke-linejoin="round" stroke-linecap="butt"/>
<rect x="407.4" y="293.72" width="184.55" height="207.25" fill="none" stroke="#333333" stroke-opacity="0.65" stroke-width="1"/>
<rect x="407.4" y="275.07" width="184.55" height="18.65" fill="#D9D9D9" stroke="#333333" stroke-opacity="0.65" stroke-width="1"/>
<text x="499.68" y="288.07" font-size="9.85" fill="#1A1A1A" text-anchor="middle">PK=30%</text>
<path d="M406.9 293.72H592.45" stroke="#333333" stroke-opacity="0.35" stroke-width="1.2" fill="none"/>
<path d="M433.38 500.97v3.2M477.58 500.97v3.2M521.78 500.97v3.2M565.98 500.97v3.2" stroke="#333333" stroke-opacity="0.9" stroke-width="1.15" fill="none"/>
<text x="433.38" y="514.47" font-size="9.85" fill="#4D4D4D" text-anchor="middle">1</text>
<text x="477.58" y="514.47" font-size="9.85" fill="#4D4D4D" text-anchor="middle">2</text>
<text x="521.78" y="514.47" font-size="9.85" fill="#4D4D4D" text-anchor="middle">3</text>
<text x="565.98" y="514.47" font-size="9.85" fill="#4D4D4D" text-anchor="middle">4</text>
<path d="M24.6 492.4h-3.4M24.6 438.39h-3.4M24.6 384.39h-3.4M24.6 330.38h-3.4" stroke="#333333" stroke-opacity="0.9" stroke-width="1.15" fill="none"/>
<text x="18.7" y="495.9" font-size="9.85" fill="#4D4D4D" text-anchor="end">0</text>
<text x="18.7" y="441.89" font-size="9.85" fill="#4D4D4D" text-anchor="end">50</text>
<text x="18.7" y="387.89" font-size="9.85" fill="#4D4D4D" text-anchor="end">100</text>
<text x="18.7" y="333.88" font-size="9.85" fill="#4D4D4D" text-anchor="end">150</text>
<rect x="591.95" y="293.72" width="19.25" height="207.25" fill="#D9D9D9" stroke="#333333" stroke-opacity="0.65" stroke-width="1"/>
<text transform="translate(598.2 397.64) rotate(90)" font-size="9.85" fill="#1A1A1A" text-anchor="middle">SHD</text>
<text x="308.3" y="527.97" font-size="12.3" fill="#000" text-anchor="middle">average degree</text>
<text x="1.9" y="553.63" font-size="15.2" font-weight="bold" fill="#000">C</text>
<rect x="24.6" y="562.63" width="184.8" height="207.3" fill="#fff"/>
<path d="M24.6 741.82H209.4M24.6 704.1H209.4M24.6 666.38H209.4M24.6 628.66H209.4M24.6 590.94H209.4" stroke="#EBEBEB" stroke-width="0.65" fill="none"/>
<path d="M24.6 760.68H209.4M24.6 722.96H209.4M24.6 685.24H209.4M24.6 647.52H209.4M24.6 609.8H209.4M24.6 572.08H209.4M50.83 562.63V769.93M95.03 562.63V769.93M139.23 562.63V769.93M183.43 562.63V769.93" stroke="#EBEBEB" stroke-width="1.2" fill="none"/>
<path d="M50.83 577.98L55.94 569.13L45.72 569.13Z" fill="none" stroke="#E8AC0E" stroke-width="1.05" stroke-opacity="0.88"/>
<path d="M95.03 600.62L100.14 591.77L89.92 591.77Z" fill="none" stroke="#E8AC0E" stroke-width="1.05" stroke-opacity="0.88"/>
<path d="M139.23 593.83L144.34 584.98L134.12 584.98Z" fill="none" stroke="#E8AC0E" stroke-width="1.05" stroke-opacity="0.88"/>
<path d="M183.43 588.54L188.54 579.69L178.32 579.69Z" fill="none" stroke="#E8AC0E" stroke-width="1.05" stroke-opacity="0.88"/>
<path d="M45.43 572.08L50.83 566.68L56.23 572.08L50.83 577.48Z" fill="none" stroke="#85B520" stroke-width="1.05" stroke-opacity="0.88"/>
<path d="M89.63 609.8L95.03 604.4L100.43 609.8L95.03 615.2Z" fill="none" stroke="#85B520" stroke-width="1.05" stroke-opacity="0.88"/>
<path d="M133.83 642.24L139.23 636.84L144.63 642.24L139.23 647.64Z" fill="none" stroke="#85B520" stroke-width="1.05" stroke-opacity="0.88"/>
<path d="M178.03 707.88L183.43 702.48L188.83 707.88L183.43 713.28Z" fill="none" stroke="#85B520" stroke-width="1.05" stroke-opacity="0.88"/>
<rect x="47.53" y="568.78" width="6.6" height="6.6" fill="none" stroke="#9960AC" stroke-width="1.05" stroke-opacity="0.88"/>
<rect x="91.73" y="585.76" width="6.6" height="6.6" fill="none" stroke="#9960AC" stroke-width="1.05" stroke-opacity="0.88"/>
<rect x="135.93" y="576.33" width="6.6" height="6.6" fill="none" stroke="#9960AC" stroke-width="1.05" stroke-opacity="0.88"/>
<rect x="180.13" y="575.95" width="6.6" height="6.6" fill="none" stroke="#9960AC" stroke-width="1.05" stroke-opacity="0.88"/>
<path d="M46.63 567.88L55.03 576.28M46.63 576.28L55.03 567.88M45.03 572.08L56.63 572.08M50.83 566.28L50.83 577.88" fill="none" stroke="#FA0F42" stroke-width="1.05" stroke-opacity="0.88"/>
<path d="M90.83 569.01L99.23 577.41M90.83 577.41L99.23 569.01M89.23 573.21L100.83 573.21M95.03 567.41L95.03 579.01" fill="none" stroke="#FA0F42" stroke-width="1.05" stroke-opacity="0.88"/>
<path d="M135.03 567.88L143.43 576.28M135.03 576.28L143.43 567.88M133.43 572.08L145.03 572.08M139.23 566.28L139.23 577.88" fill="none" stroke="#FA0F42" stroke-width="1.05" stroke-opacity="0.88"/>
<path d="M179.23 567.88L187.63 576.28M179.23 576.28L187.63 567.88M177.63 572.08L189.23 572.08M183.43 566.28L183.43 577.88" fill="none" stroke="#FA0F42" stroke-width="1.05" stroke-opacity="0.88"/>
<path d="M50.83 565.98L56.11 575.13L45.55 575.13Z" fill="#0828A2"/>
<path d="M95.03 585.97L100.31 595.12L89.75 595.12Z" fill="#0828A2"/>
<path d="M139.23 631.99L144.51 641.14L133.95 641.14Z" fill="#0828A2"/>
<path d="M183.43 704.42L188.71 713.57L178.15 713.57Z" fill="#0828A2"/>
<polyline points="50.83,572.08 95.03,594.72 139.23,587.93 183.43,582.64" fill="none" stroke="#E8AC0E" stroke-width="2.4" stroke-linejoin="round" stroke-linecap="butt"/>
<polyline points="50.83,572.08 95.03,609.8 139.23,642.24 183.43,707.88" fill="none" stroke="#85B520" stroke-width="2.4" stroke-linejoin="round" stroke-linecap="butt"/>
<polyline points="50.83,572.08 95.03,589.06 139.23,579.63 183.43,579.25" fill="none" stroke="#9960AC" stroke-width="2.4" stroke-linejoin="round" stroke-linecap="butt"/>
<polyline points="50.83,572.08 95.03,592.07 139.23,638.09 183.43,710.52" fill="none" stroke="#0828A2" stroke-width="2.4" stroke-linejoin="round" stroke-linecap="butt"/>
<polyline points="50.83,572.08 95.03,573.21 139.23,572.08 183.43,572.08" fill="none" stroke="#FA0F42" stroke-width="2.4" stroke-linejoin="round" stroke-linecap="butt"/>
<rect x="24.6" y="562.63" width="184.8" height="207.3" fill="none" stroke="#333333" stroke-opacity="0.65" stroke-width="1"/>
<rect x="24.6" y="543.93" width="184.8" height="18.7" fill="#D9D9D9" stroke="#333333" stroke-opacity="0.65" stroke-width="1"/>
<text x="117" y="556.73" font-size="9.85" fill="#1A1A1A" text-anchor="middle">PK=10%</text>
<path d="M24.1 562.63H209.9" stroke="#333333" stroke-opacity="0.35" stroke-width="1.2" fill="none"/>
<path d="M50.83 769.93v3.2M95.03 769.93v3.2M139.23 769.93v3.2M183.43 769.93v3.2" stroke="#333333" stroke-opacity="0.9" stroke-width="1.15" fill="none"/>
<text x="50.83" y="783.13" font-size="9.85" fill="#4D4D4D" text-anchor="middle">1</text>
<text x="95.03" y="783.13" font-size="9.85" fill="#4D4D4D" text-anchor="middle">2</text>
<text x="139.23" y="783.13" font-size="9.85" fill="#4D4D4D" text-anchor="middle">3</text>
<text x="183.43" y="783.13" font-size="9.85" fill="#4D4D4D" text-anchor="middle">4</text>
<rect x="216.15" y="562.63" width="184.55" height="207.3" fill="#fff"/>
<path d="M216.15 741.82H400.7M216.15 704.1H400.7M216.15 666.38H400.7M216.15 628.66H400.7M216.15 590.94H400.7" stroke="#EBEBEB" stroke-width="0.65" fill="none"/>
<path d="M216.15 760.68H400.7M216.15 722.96H400.7M216.15 685.24H400.7M216.15 647.52H400.7M216.15 609.8H400.7M216.15 572.08H400.7M242.13 562.63V769.93M286.33 562.63V769.93M330.53 562.63V769.93M374.73 562.63V769.93" stroke="#EBEBEB" stroke-width="1.2" fill="none"/>
<path d="M242.13 611.55L247.24 602.7L237.02 602.7Z" fill="none" stroke="#E8AC0E" stroke-width="1.05" stroke-opacity="0.88"/>
<path d="M286.33 592.32L291.44 583.47L281.22 583.47Z" fill="none" stroke="#E8AC0E" stroke-width="1.05" stroke-opacity="0.88"/>
<path d="M330.53 590.05L335.64 581.2L325.42 581.2Z" fill="none" stroke="#E8AC0E" stroke-width="1.05" stroke-opacity="0.88"/>
<path d="M374.73 586.66L379.84 577.81L369.62 577.81Z" fill="none" stroke="#E8AC0E" stroke-width="1.05" stroke-opacity="0.88"/>
<path d="M236.73 609.05L242.13 603.65L247.53 609.05L242.13 614.45Z" fill="none" stroke="#85B520" stroke-width="1.05" stroke-opacity="0.88"/>
<path d="M280.93 598.49L286.33 593.09L291.73 598.49L286.33 603.89Z" fill="none" stroke="#85B520" stroke-width="1.05" stroke-opacity="0.88"/>
<path d="M325.13 630.17L330.53 624.77L335.93 630.17L330.53 635.57Z" fill="none" stroke="#85B520" stroke-width="1.05" stroke-opacity="0.88"/>
<path d="M369.33 679.21L374.73 673.81L380.13 679.21L374.73 684.61Z" fill="none" stroke="#85B520" stroke-width="1.05" stroke-opacity="0.88"/>
<rect x="238.83" y="573.31" width="6.6" height="6.6" fill="none" stroke="#9960AC" stroke-width="1.05" stroke-opacity="0.88"/>
<rect x="283.03" y="580.1" width="6.6" height="6.6" fill="none" stroke="#9960AC" stroke-width="1.05" stroke-opacity="0.88"/>
<rect x="327.23" y="575.95" width="6.6" height="6.6" fill="none" stroke="#9960AC" stroke-width="1.05" stroke-opacity="0.88"/>
<rect x="371.43" y="575.57" width="6.6" height="6.6" fill="none" stroke="#9960AC" stroke-width="1.05" stroke-opacity="0.88"/>
<path d="M237.93 567.88L246.33 576.28M237.93 576.28L246.33 567.88M236.33 572.08L247.93 572.08M242.13 566.28L242.13 577.88" fill="none" stroke="#FA0F42" stroke-width="1.05" stroke-opacity="0.88"/>
<path d="M282.13 567.51L290.53 575.91M282.13 575.91L290.53 567.51M280.53 571.71L292.13 571.71M286.33 565.91L286.33 577.51" fill="none" stroke="#FA0F42" stroke-width="1.05" stroke-opacity="0.88"/>
<path d="M326.33 567.51L334.73 575.91M326.33 575.91L334.73 567.51M324.73 571.71L336.33 571.71M330.53 565.91L330.53 577.51" fill="none" stroke="#FA0F42" stroke-width="1.05" stroke-opacity="0.88"/>
<path d="M370.53 567.88L378.93 576.28M370.53 576.28L378.93 567.88M368.93 572.08L380.53 572.08M374.73 566.28L374.73 577.88" fill="none" stroke="#FA0F42" stroke-width="1.05" stroke-opacity="0.88"/>
<path d="M242.13 567.11L247.41 576.26L236.85 576.26Z" fill="#0828A2"/>
<path d="M286.33 580.32L291.61 589.47L281.05 589.47Z" fill="#0828A2"/>
<path d="M330.53 629.73L335.81 638.88L325.25 638.88Z" fill="#0828A2"/>
<path d="M374.73 690.46L380.01 699.61L369.45 699.61Z" fill="#0828A2"/>
<polyline points="242.13,605.65 286.33,586.42 330.53,584.15 374.73,580.76" fill="none" stroke="#E8AC0E" stroke-width="2.4" stroke-linejoin="round" stroke-linecap="butt"/>
<polyline points="242.13,609.05 286.33,598.49 330.53,630.17 374.73,679.21" fill="none" stroke="#85B520" stroke-width="2.4" stroke-linejoin="round" stroke-linecap="butt"/>
<polyline points="242.13,576.61 286.33,583.4 330.53,579.25 374.73,578.87" fill="none" stroke="#9960AC" stroke-width="2.4" stroke-linejoin="round" stroke-linecap="butt"/>
<polyline points="242.13,573.21 286.33,586.42 330.53,635.83 374.73,696.56" fill="none" stroke="#0828A2" stroke-width="2.4" stroke-linejoin="round" stroke-linecap="butt"/>
<polyline points="242.13,572.08 286.33,571.71 330.53,571.71 374.73,572.08" fill="none" stroke="#FA0F42" stroke-width="2.4" stroke-linejoin="round" stroke-linecap="butt"/>
<rect x="216.15" y="562.63" width="184.55" height="207.3" fill="none" stroke="#333333" stroke-opacity="0.65" stroke-width="1"/>
<rect x="216.15" y="543.93" width="184.55" height="18.7" fill="#D9D9D9" stroke="#333333" stroke-opacity="0.65" stroke-width="1"/>
<text x="308.43" y="556.73" font-size="9.85" fill="#1A1A1A" text-anchor="middle">PK=20%</text>
<path d="M215.65 562.63H401.2" stroke="#333333" stroke-opacity="0.35" stroke-width="1.2" fill="none"/>
<path d="M242.13 769.93v3.2M286.33 769.93v3.2M330.53 769.93v3.2M374.73 769.93v3.2" stroke="#333333" stroke-opacity="0.9" stroke-width="1.15" fill="none"/>
<text x="242.13" y="783.13" font-size="9.85" fill="#4D4D4D" text-anchor="middle">1</text>
<text x="286.33" y="783.13" font-size="9.85" fill="#4D4D4D" text-anchor="middle">2</text>
<text x="330.53" y="783.13" font-size="9.85" fill="#4D4D4D" text-anchor="middle">3</text>
<text x="374.73" y="783.13" font-size="9.85" fill="#4D4D4D" text-anchor="middle">4</text>
<rect x="407.4" y="562.63" width="184.55" height="207.3" fill="#fff"/>
<path d="M407.4 741.82H591.95M407.4 704.1H591.95M407.4 666.38H591.95M407.4 628.66H591.95M407.4 590.94H591.95" stroke="#EBEBEB" stroke-width="0.65" fill="none"/>
<path d="M407.4 760.68H591.95M407.4 722.96H591.95M407.4 685.24H591.95M407.4 647.52H591.95M407.4 609.8H591.95M407.4 572.08H591.95M433.38 562.63V769.93M477.58 562.63V769.93M521.78 562.63V769.93M565.98 562.63V769.93" stroke="#EBEBEB" stroke-width="1.2" fill="none"/>
<path d="M433.38 597.22L438.49 588.37L428.27 588.37Z" fill="none" stroke="#E8AC0E" stroke-width="1.05" stroke-opacity="0.88"/>
<path d="M477.58 586.66L482.69 577.81L472.47 577.81Z" fill="none" stroke="#E8AC0E" stroke-width="1.05" stroke-opacity="0.88"/>
<path d="M521.78 584.4L526.89 575.55L516.67 575.55Z" fill="none" stroke="#E8AC0E" stroke-width="1.05" stroke-opacity="0.88"/>
<path d="M565.98 583.64L571.09 574.79L560.87 574.79Z" fill="none" stroke="#E8AC0E" stroke-width="1.05" stroke-opacity="0.88"/>
<path d="M427.98 590.19L433.38 584.79L438.78 590.19L433.38 595.59Z" fill="none" stroke="#85B520" stroke-width="1.05" stroke-opacity="0.88"/>
<path d="M472.18 589.81L477.58 584.41L482.98 589.81L477.58 595.21Z" fill="none" stroke="#85B520" stroke-width="1.05" stroke-opacity="0.88"/>
<path d="M516.38 620.74L521.78 615.34L527.18 620.74L521.78 626.14Z" fill="none" stroke="#85B520" stroke-width="1.05" stroke-opacity="0.88"/>
<path d="M560.58 661.1L565.98 655.7L571.38 661.1L565.98 666.5Z" fill="none" stroke="#85B520" stroke-width="1.05" stroke-opacity="0.88"/>
<rect x="430.08" y="571.8" width="6.6" height="6.6" fill="none" stroke="#9960AC" stroke-width="1.05" stroke-opacity="0.88"/>
<rect x="474.28" y="581.61" width="6.6" height="6.6" fill="none" stroke="#9960AC" stroke-width="1.05" stroke-opacity="0.88"/>
<rect x="518.48" y="573.31" width="6.6" height="6.6" fill="none" stroke="#9960AC" stroke-width="1.05" stroke-opacity="0.88"/>
<rect x="562.68" y="573.31" width="6.6" height="6.6" fill="none" stroke="#9960AC" stroke-width="1.05" stroke-opacity="0.88"/>
<path d="M429.18 568.64L437.58 577.04M429.18 577.04L437.58 568.64M427.58 572.84L439.18 572.84M433.38 567.04L433.38 578.64" fill="none" stroke="#FA0F42" stroke-width="1.05" stroke-opacity="0.88"/>
<path d="M473.38 567.51L481.78 575.91M473.38 575.91L481.78 567.51M471.78 571.71L483.38 571.71M477.58 565.91L477.58 577.51" fill="none" stroke="#FA0F42" stroke-width="1.05" stroke-opacity="0.88"/>
<path d="M517.58 567.51L525.98 575.91M517.58 575.91L525.98 567.51M515.98 571.71L527.58 571.71M521.78 565.91L521.78 577.51" fill="none" stroke="#FA0F42" stroke-width="1.05" stroke-opacity="0.88"/>
<path d="M561.78 567.88L570.18 576.28M561.78 576.28L570.18 567.88M560.18 572.08L571.78 572.08M565.98 566.28L565.98 577.88" fill="none" stroke="#FA0F42" stroke-width="1.05" stroke-opacity="0.88"/>
<path d="M433.38 565.98L438.66 575.13L428.1 575.13Z" fill="#0828A2"/>
<path d="M477.58 583.71L482.86 592.86L472.3 592.86Z" fill="#0828A2"/>
<path d="M521.78 633.88L527.06 643.03L516.5 643.03Z" fill="#0828A2"/>
<path d="M565.98 690.84L571.26 699.99L560.7 699.99Z" fill="#0828A2"/>
<polyline points="433.38,591.32 477.58,580.76 521.78,578.5 565.98,577.74" fill="none" stroke="#E8AC0E" stroke-width="2.4" stroke-linejoin="round" stroke-linecap="butt"/>
<polyline points="433.38,590.19 477.58,589.81 521.78,620.74 565.98,661.1" fill="none" stroke="#85B520" stroke-width="2.4" stroke-linejoin="round" stroke-linecap="butt"/>
<polyline points="433.38,575.1 477.58,584.91 521.78,576.61 565.98,576.61" fill="none" stroke="#9960AC" stroke-width="2.4" stroke-linejoin="round" stroke-linecap="butt"/>
<polyline points="433.38,572.08 477.58,589.81 521.78,639.98 565.98,696.94" fill="none" stroke="#0828A2" stroke-width="2.4" stroke-linejoin="round" stroke-linecap="butt"/>
<polyline points="433.38,572.84 477.58,571.71 521.78,571.71 565.98,572.08" fill="none" stroke="#FA0F42" stroke-width="2.4" stroke-linejoin="round" stroke-linecap="butt"/>
<rect x="407.4" y="562.63" width="184.55" height="207.3" fill="none" stroke="#333333" stroke-opacity="0.65" stroke-width="1"/>
<rect x="407.4" y="543.93" width="184.55" height="18.7" fill="#D9D9D9" stroke="#333333" stroke-opacity="0.65" stroke-width="1"/>
<text x="499.68" y="556.73" font-size="9.85" fill="#1A1A1A" text-anchor="middle">PK=30%</text>
<path d="M406.9 562.63H592.45" stroke="#333333" stroke-opacity="0.35" stroke-width="1.2" fill="none"/>
<path d="M433.38 769.93v3.2M477.58 769.93v3.2M521.78 769.93v3.2M565.98 769.93v3.2" stroke="#333333" stroke-opacity="0.9" stroke-width="1.15" fill="none"/>
<text x="433.38" y="783.13" font-size="9.85" fill="#4D4D4D" text-anchor="middle">1</text>
<text x="477.58" y="783.13" font-size="9.85" fill="#4D4D4D" text-anchor="middle">2</text>
<text x="521.78" y="783.13" font-size="9.85" fill="#4D4D4D" text-anchor="middle">3</text>
<text x="565.98" y="783.13" font-size="9.85" fill="#4D4D4D" text-anchor="middle">4</text>
<path d="M24.6 760.68h-3.4M24.6 722.96h-3.4M24.6 685.24h-3.4M24.6 647.52h-3.4M24.6 609.8h-3.4M24.6 572.08h-3.4" stroke="#333333" stroke-opacity="0.9" stroke-width="1.15" fill="none"/>
<text x="18.7" y="764.18" font-size="9.85" fill="#4D4D4D" text-anchor="end">0.5</text>
<text x="18.7" y="726.46" font-size="9.85" fill="#4D4D4D" text-anchor="end">0.6</text>
<text x="18.7" y="688.74" font-size="9.85" fill="#4D4D4D" text-anchor="end">0.7</text>
<text x="18.7" y="651.02" font-size="9.85" fill="#4D4D4D" text-anchor="end">0.8</text>
<text x="18.7" y="613.3" font-size="9.85" fill="#4D4D4D" text-anchor="end">0.9</text>
<text x="18.7" y="575.58" font-size="9.85" fill="#4D4D4D" text-anchor="end">1.0</text>
<rect x="591.95" y="562.63" width="19.25" height="207.3" fill="#D9D9D9" stroke="#333333" stroke-opacity="0.65" stroke-width="1"/>
<text transform="translate(598.2 666.58) rotate(90)" font-size="9.85" fill="#1A1A1A" text-anchor="middle">Constraint Satisfaction Rate</text>
<text x="308.3" y="796.63" font-size="12.3" fill="#000" text-anchor="middle">average degree</text>
<rect x="617" y="0" width="1" height="806" fill="#FBFBFB"/>
<text x="630.4" y="355.5" font-size="12.3" fill="#000">method</text>
<path d="M640 379L645.11 370.15L634.89 370.15Z" fill="none" stroke="#E8AC0E" stroke-width="1.05" stroke-opacity="0.88"/>
<path d="M632.2 373.1H647.9" stroke="#E8AC0E" stroke-width="2.4" fill="none"/>
<text x="655.6" y="376.6" font-size="9.85" fill="#000">PC(all_exp)</text>
<path d="M634.6 392.47L640 387.07L645.4 392.47L640 397.87Z" fill="none" stroke="#85B520" stroke-width="1.05" stroke-opacity="0.88"/>
<path d="M632.2 392.47H647.9" stroke="#85B520" stroke-width="2.4" fill="none"/>
<text x="655.6" y="395.97" font-size="9.85" fill="#000">PC(d_exp)</text>
<rect x="636.7" y="408.54" width="6.6" height="6.6" fill="none" stroke="#9960AC" stroke-width="1.05" stroke-opacity="0.88"/>
<path d="M632.2 411.84H647.9" stroke="#9960AC" stroke-width="2.4" fill="none"/>
<text x="655.6" y="415.34" font-size="9.85" fill="#000">MMHC</text>
<path d="M640 425.11L645.28 434.26L634.72 434.26Z" fill="#0828A2"/>
<path d="M632.2 431.21H647.9" stroke="#0828A2" stroke-width="2.4" fill="none"/>
<text x="655.6" y="434.71" font-size="9.85" fill="#000">PC-PDAG</text>
<path d="M635.8 446.38L644.2 454.78M635.8 454.78L644.2 446.38M634.2 450.58L645.8 450.58M640 444.78L640 456.38" fill="none" stroke="#FA0F42" stroke-width="1.05" stroke-opacity="0.88"/>
<path d="M632.2 450.58H647.9" stroke="#FA0F42" stroke-width="2.4" fill="none"/>
<text x="655.6" y="454.08" font-size="9.85" fill="#000">MPPC</text>
</svg>
</body></html>
